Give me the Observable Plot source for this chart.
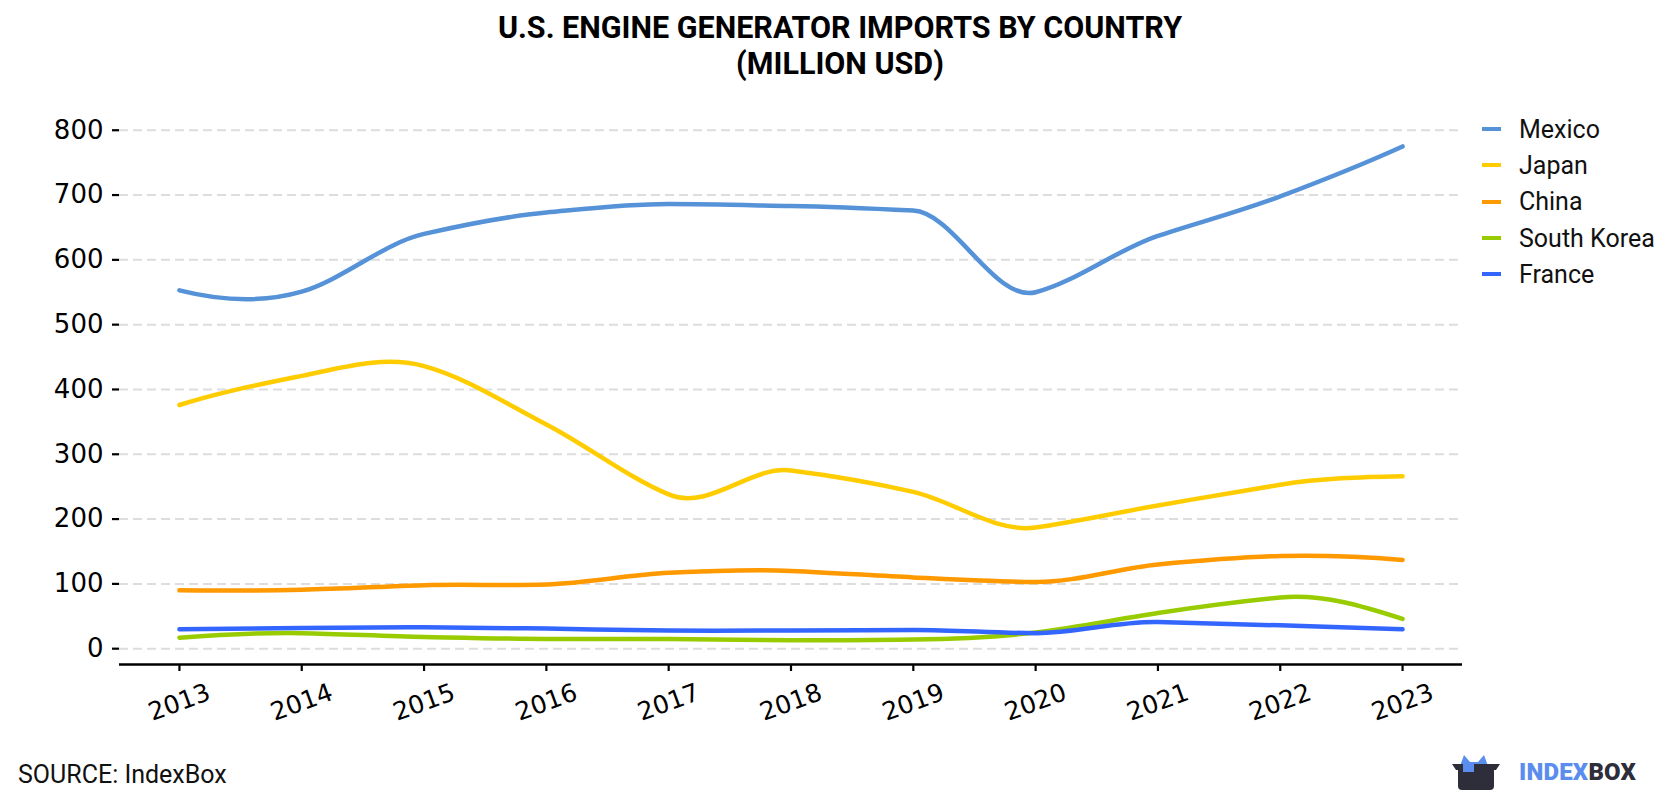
<!DOCTYPE html>
<html>
<head>
<meta charset="utf-8">
<script src="https://cdn.jsdelivr.net/npm/d3@7"></script>
<script src="https://cdn.jsdelivr.net/npm/@observablehq/plot@0.6"></script>
<style>
  html, body { margin: 0; padding: 0; background: #fff; }
  #page { position: relative; width: 1680px; height: 800px; overflow: hidden; background: #fff; }
  #chart { position: absolute; left: 0; top: 0; }
  #title {
    position: absolute; left: 0; top: 10px; width: 1680px; text-align: center;
    font-family: Roboto, "Noto Sans", sans-serif; font-weight: 700; font-size: 30.5px;
    line-height: 36px; color: #000;
  }
  #legend { position: absolute; left: 1482px; top: 111px; font-family: Roboto, sans-serif; font-size: 25px; color: #111; }
  .row { display: flex; align-items: center; height: 36.3px; }
  .sw { width: 19px; height: 4px; margin-right: 18px; }
  #source { position: absolute; left: 18px; top: 760px; font-family: Roboto, sans-serif; font-size: 25px; color: #111; }
  #logo { position: absolute; left: 1450px; top: 752px; display: flex; align-items: center; }
  #logo .word { font-family: Roboto, sans-serif; font-weight: 900; font-size: 24px; margin-left: 17px; letter-spacing: 0.2px; }
</style>
</head>
<body>
<div id="page">
  <div id="chart"></div>
  <div id="title">U.S. ENGINE GENERATOR IMPORTS BY COUNTRY<br>(MILLION USD)</div>
  <div id="legend"></div>
  <div id="source">SOURCE: IndexBox</div>
  <div id="logo">
    <svg width="52" height="40" viewBox="0 0 52 40">
      <path d="M10 14 L14 3 L20 10 L28 10 L34 3 L38 14 Z" fill="#5b8def"/>
      <path d="M2 12 L50 12 L46 18 L44 18 L44 34 Q44 38 40 38 L12 38 Q8 38 8 34 L8 18 L6 18 Z" fill="#2d2e3a"/>
      <path d="M13 12 L24 12 L24 20 L13 20 Z" fill="#5b8def"/>
    </svg>
    <span class="word"><span style="color:#5b8def">INDEX</span><span style="color:#2d2e3a">BOX</span></span>
  </div>
</div>
<script>
// Import values, million USD
const years = [2013, 2014, 2015, 2016, 2017, 2018, 2019, 2020, 2021, 2022, 2023];
const mexico     = [553, 551, 640, 673, 686, 683, 676, 550, 637, 698, 775];
const japan      = [376, 421, 436, 346, 238, 275, 242, 187, 221, 253, 266];
const china      = [90, 91, 98, 99, 117, 120, 110, 103, 130, 143, 137];
const southKorea = [17, 24, 18, 15, 15, 13, 14, 25, 55, 79, 46];
const france     = [30, 32, 33, 31, 28, 28, 29, 24, 41, 36, 30];

const countries = ["Mexico", "Japan", "China", "South Korea", "France"];
const colors = ["#5592d7", "#ffcc00", "#ff9900", "#99cc00", "#3366ff"];
const yTicks = [0, 100, 200, 300, 400, 500, 600, 700, 800];

const series = [mexico, japan, china, southKorea, france];
const rows = [];
countries.forEach((c, i) => years.forEach((y, j) => rows.push({country: c, year: y, value: series[i][j]})));

// Akima spline as a d3-style curve factory: local tangents weighted by
// neighbouring slope changes, drawn as cubic Bézier segments.
function curveAkima(context) {
  let xs, ys;
  return {
    areaStart() {}, areaEnd() {},
    lineStart() { xs = []; ys = []; },
    lineEnd() {
      const n = xs.length;
      if (!n) return;
      context.moveTo(xs[0], ys[0]);
      if (n === 1) return;
      if (n === 2) { context.lineTo(xs[1], ys[1]); return; }
      const m = new Array(n + 3);
      for (let i = 0; i < n - 1; i++) m[i + 2] = (ys[i + 1] - ys[i]) / (xs[i + 1] - xs[i]);
      m[1] = 2 * m[2] - m[3];
      m[0] = 2 * m[1] - m[2];
      m[n + 1] = 2 * m[n] - m[n - 1];
      m[n + 2] = 2 * m[n + 1] - m[n];
      const t = [];
      for (let i = 0; i < n; i++) {
        const w1 = Math.abs(m[i + 3] - m[i + 2]), w2 = Math.abs(m[i + 1] - m[i]);
        t[i] = (w1 + w2) > 1e-9 ? (w1 * m[i + 1] + w2 * m[i + 2]) / (w1 + w2) : (m[i + 1] + m[i + 2]) / 2;
      }
      for (let i = 0; i < n - 1; i++) {
        const dx = (xs[i + 1] - xs[i]) / 3;
        context.bezierCurveTo(xs[i] + dx, ys[i] + t[i] * dx, xs[i + 1] - dx, ys[i + 1] - t[i + 1] * dx, xs[i + 1], ys[i + 1]);
      }
    },
    point(x, y) { xs.push(+x); ys.push(+y); }
  };
}

const yMin = -24.4;

const chart = Plot.plot({
  width: 1680,
  height: 800,
  marginTop: 110.3,
  marginBottom: 136,
  marginLeft: 119,
  marginRight: 218,
  style: {fontFamily: "'DejaVu Sans', sans-serif", fontSize: "25px", color: "#000", background: "transparent"},
  x: {domain: [2012.51, 2023.49], axis: null},
  y: {domain: [yMin, 830], axis: null},
  color: {domain: countries, range: colors},
  marks: [
    Plot.ruleY(yTicks, {stroke: "#dddddd", strokeWidth: 2, strokeDasharray: "9,5"}),
    Plot.axisY({ticks: yTicks, tickSize: 7, tickPadding: 9, tickFormat: d => String(d), fontSize: 26, strokeWidth: 2.2, label: null}),
    Plot.ruleY([yMin], {stroke: "#000", strokeWidth: 2.6}),
    Plot.axisX({ticks: years, tickSize: 7, strokeWidth: 2.2, tickFormat: () => "", label: null}),
    Plot.text(years, {x: d => d, frameAnchor: "bottom", dy: 38, rotate: -20, text: d => String(d), fontSize: 25, fill: "#000", textAnchor: "middle", lineAnchor: "middle"}),
    Plot.line(rows, {x: "year", y: "value", z: "country", stroke: "country", strokeWidth: 4.5, curve: curveAkima})
  ]
});
document.getElementById("chart").appendChild(chart);

// Legend rows built from the same series names and colours
const legend = document.getElementById("legend");
countries.forEach((c, i) => {
  const row = document.createElement("div");
  row.className = "row";
  row.innerHTML = `<div class="sw" style="background:${colors[i]}"></div><span>${c}</span>`;
  legend.appendChild(row);
});
</script>
</body>
</html>
